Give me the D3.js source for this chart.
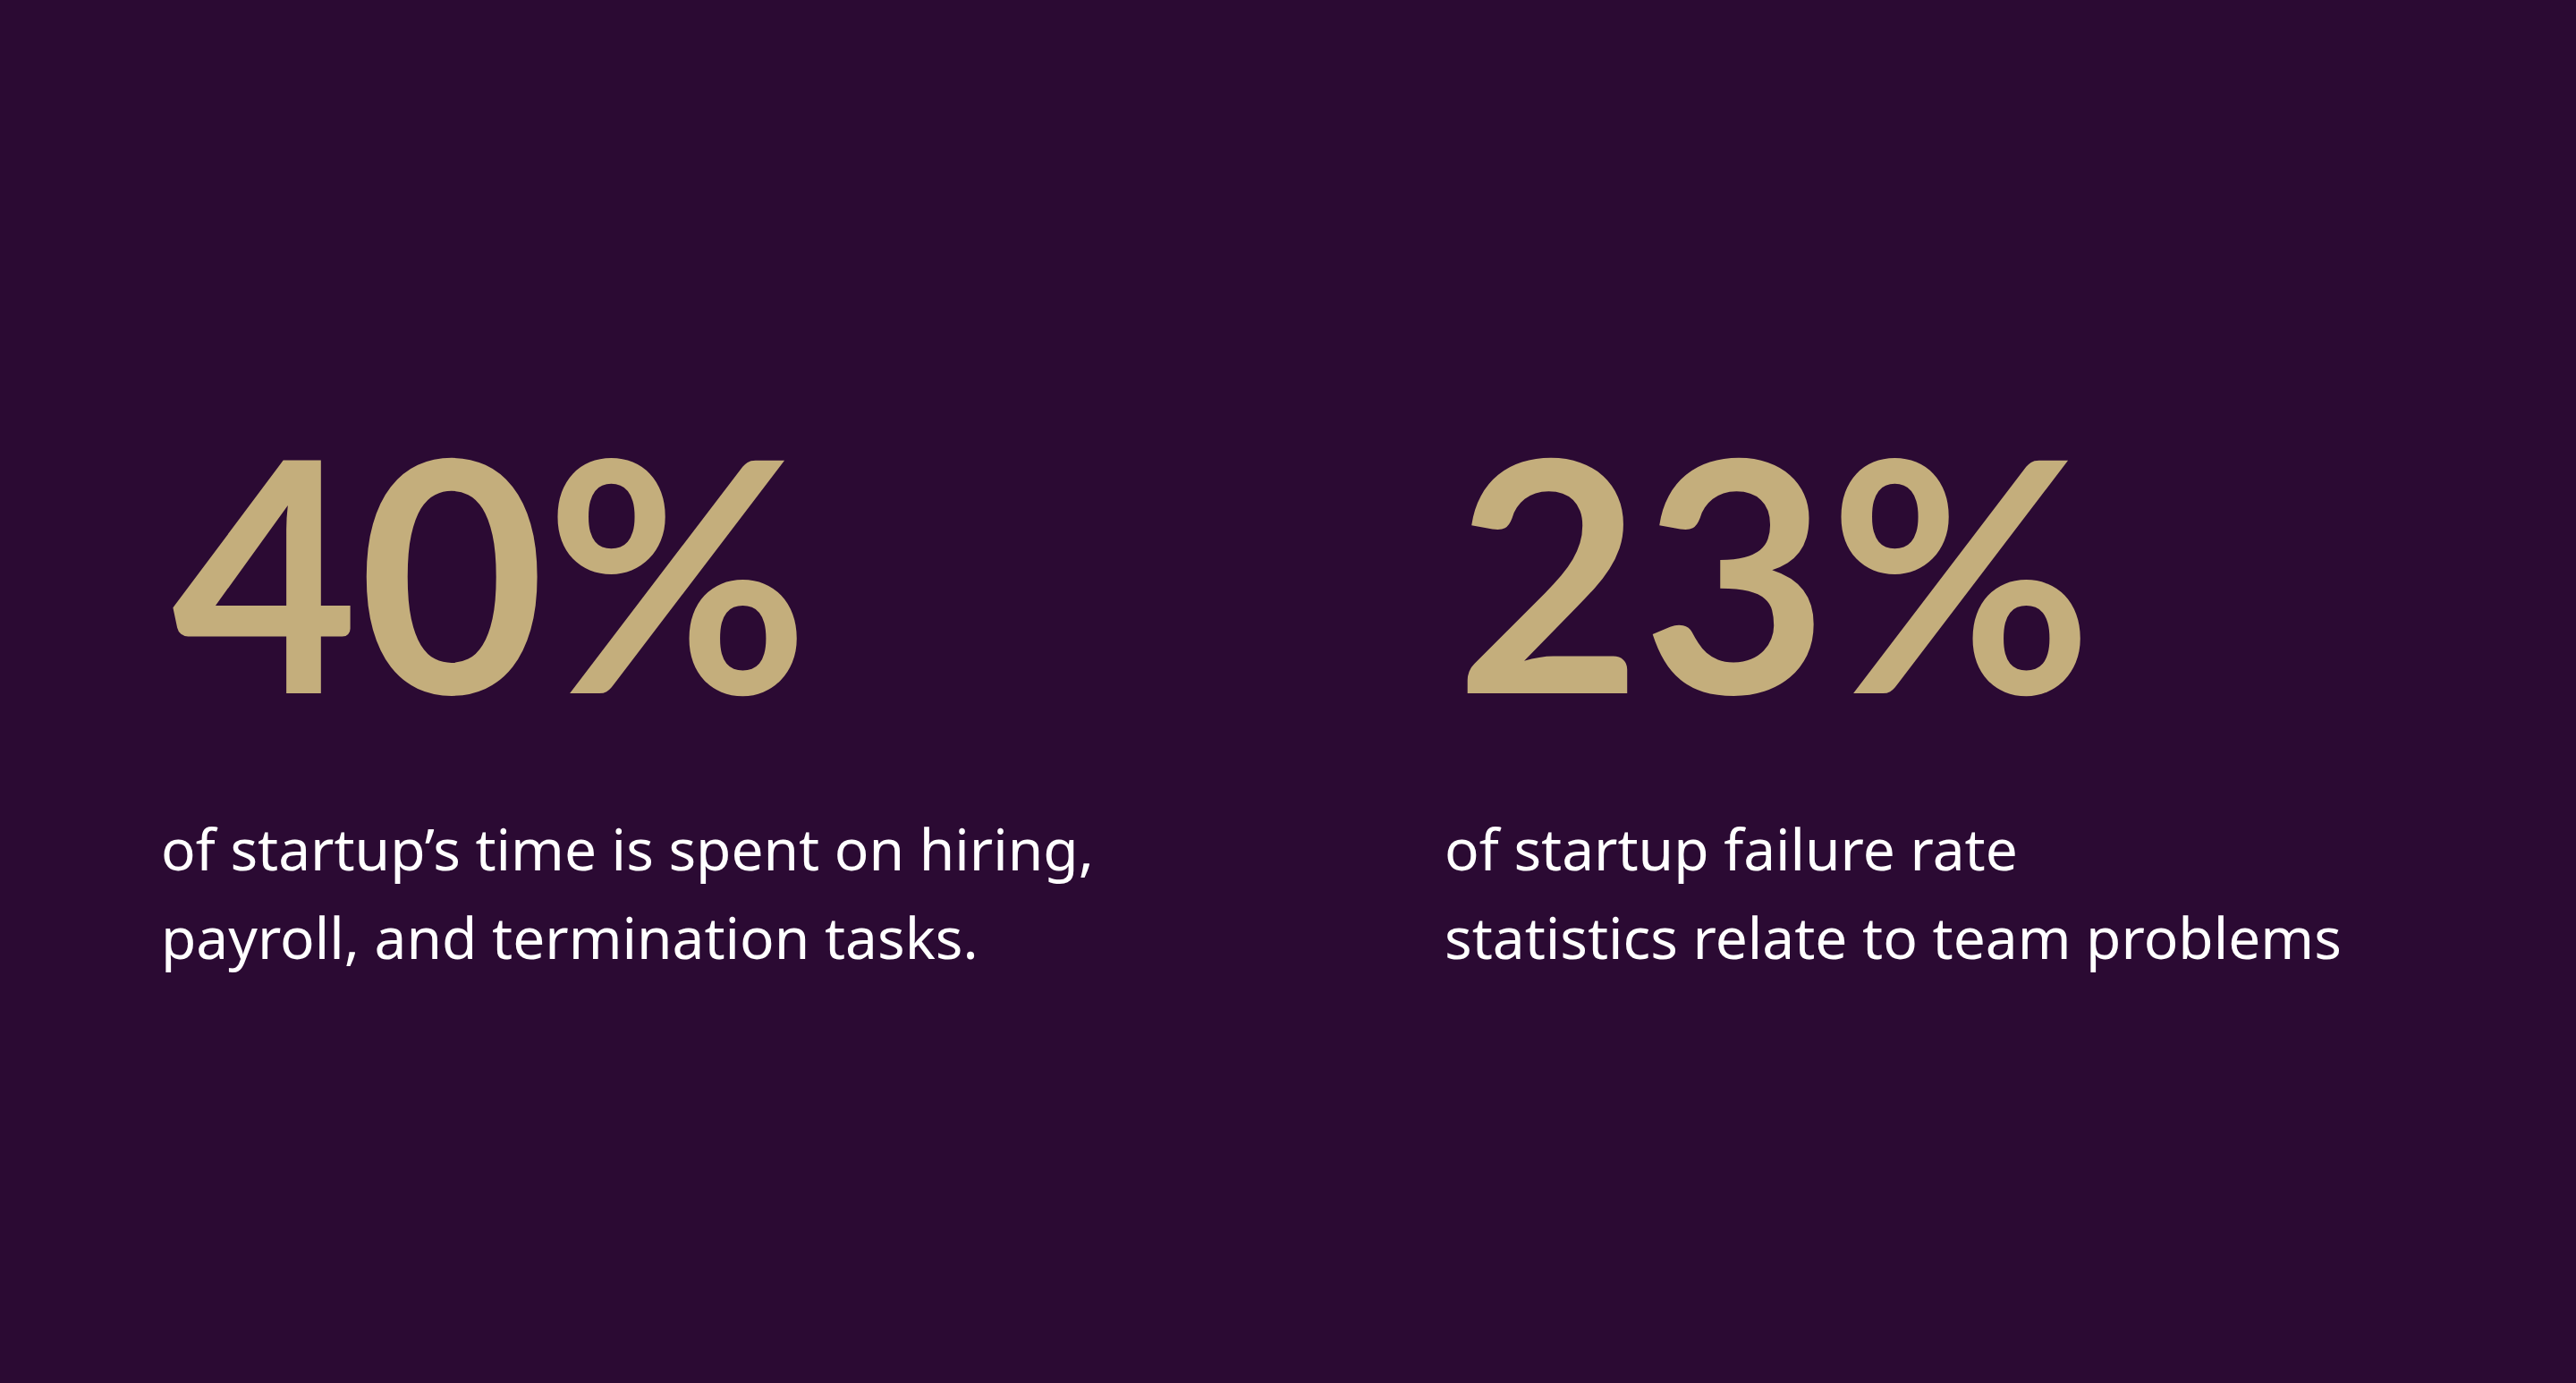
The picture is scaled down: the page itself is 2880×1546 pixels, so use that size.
<!DOCTYPE html>
<html><head><meta charset="utf-8">
<script src="https://cdn.jsdelivr.net/npm/d3@7"></script>
<style>html,body{margin:0;padding:0;background:#2b0a33;overflow:hidden}</style>
</head><body>
<script>
const values = ["40%", "23%"];
const descLine1 = ["of startup\u2019s time is spent on hiring,", "of startup failure rate"];
const descLine2 = ["payroll, and termination tasks.", "statistics relate to team problems"];

const W = 2880, H = 1546;
const svg = d3.select("body").append("svg").attr("width", W).attr("height", H);
svg.append("rect").attr("width", W).attr("height", H).attr("fill", "#2b0a33");
const x = d3.scaleBand().domain(d3.range(values.length)).range([180, 180 + 2 * 1435]);
const g = svg.selectAll("g.stat").data(values).enter().append("g")
  .attr("transform", (d, i) => `translate(${x(i)},0)`);
g.append("text").text(d => d).attr("x", 12).attr("y", 775)
  .attr("font-family", "Lato, 'Noto Sans', sans-serif").attr("font-weight", 700)
  .attr("font-size", 360).attr("fill", "#c4ae7c");
g.append("text").text((d, i) => descLine1[i]).attr("x", 0).attr("y", 973)
  .attr("font-family", "'Noto Sans', sans-serif").attr("font-size", 64).attr("fill", "#ffffff");
g.append("text").text((d, i) => descLine2[i]).attr("x", 0).attr("y", 1072)
  .attr("font-family", "'Noto Sans', sans-serif").attr("font-size", 64).attr("fill", "#ffffff");
</script>
</body></html>
